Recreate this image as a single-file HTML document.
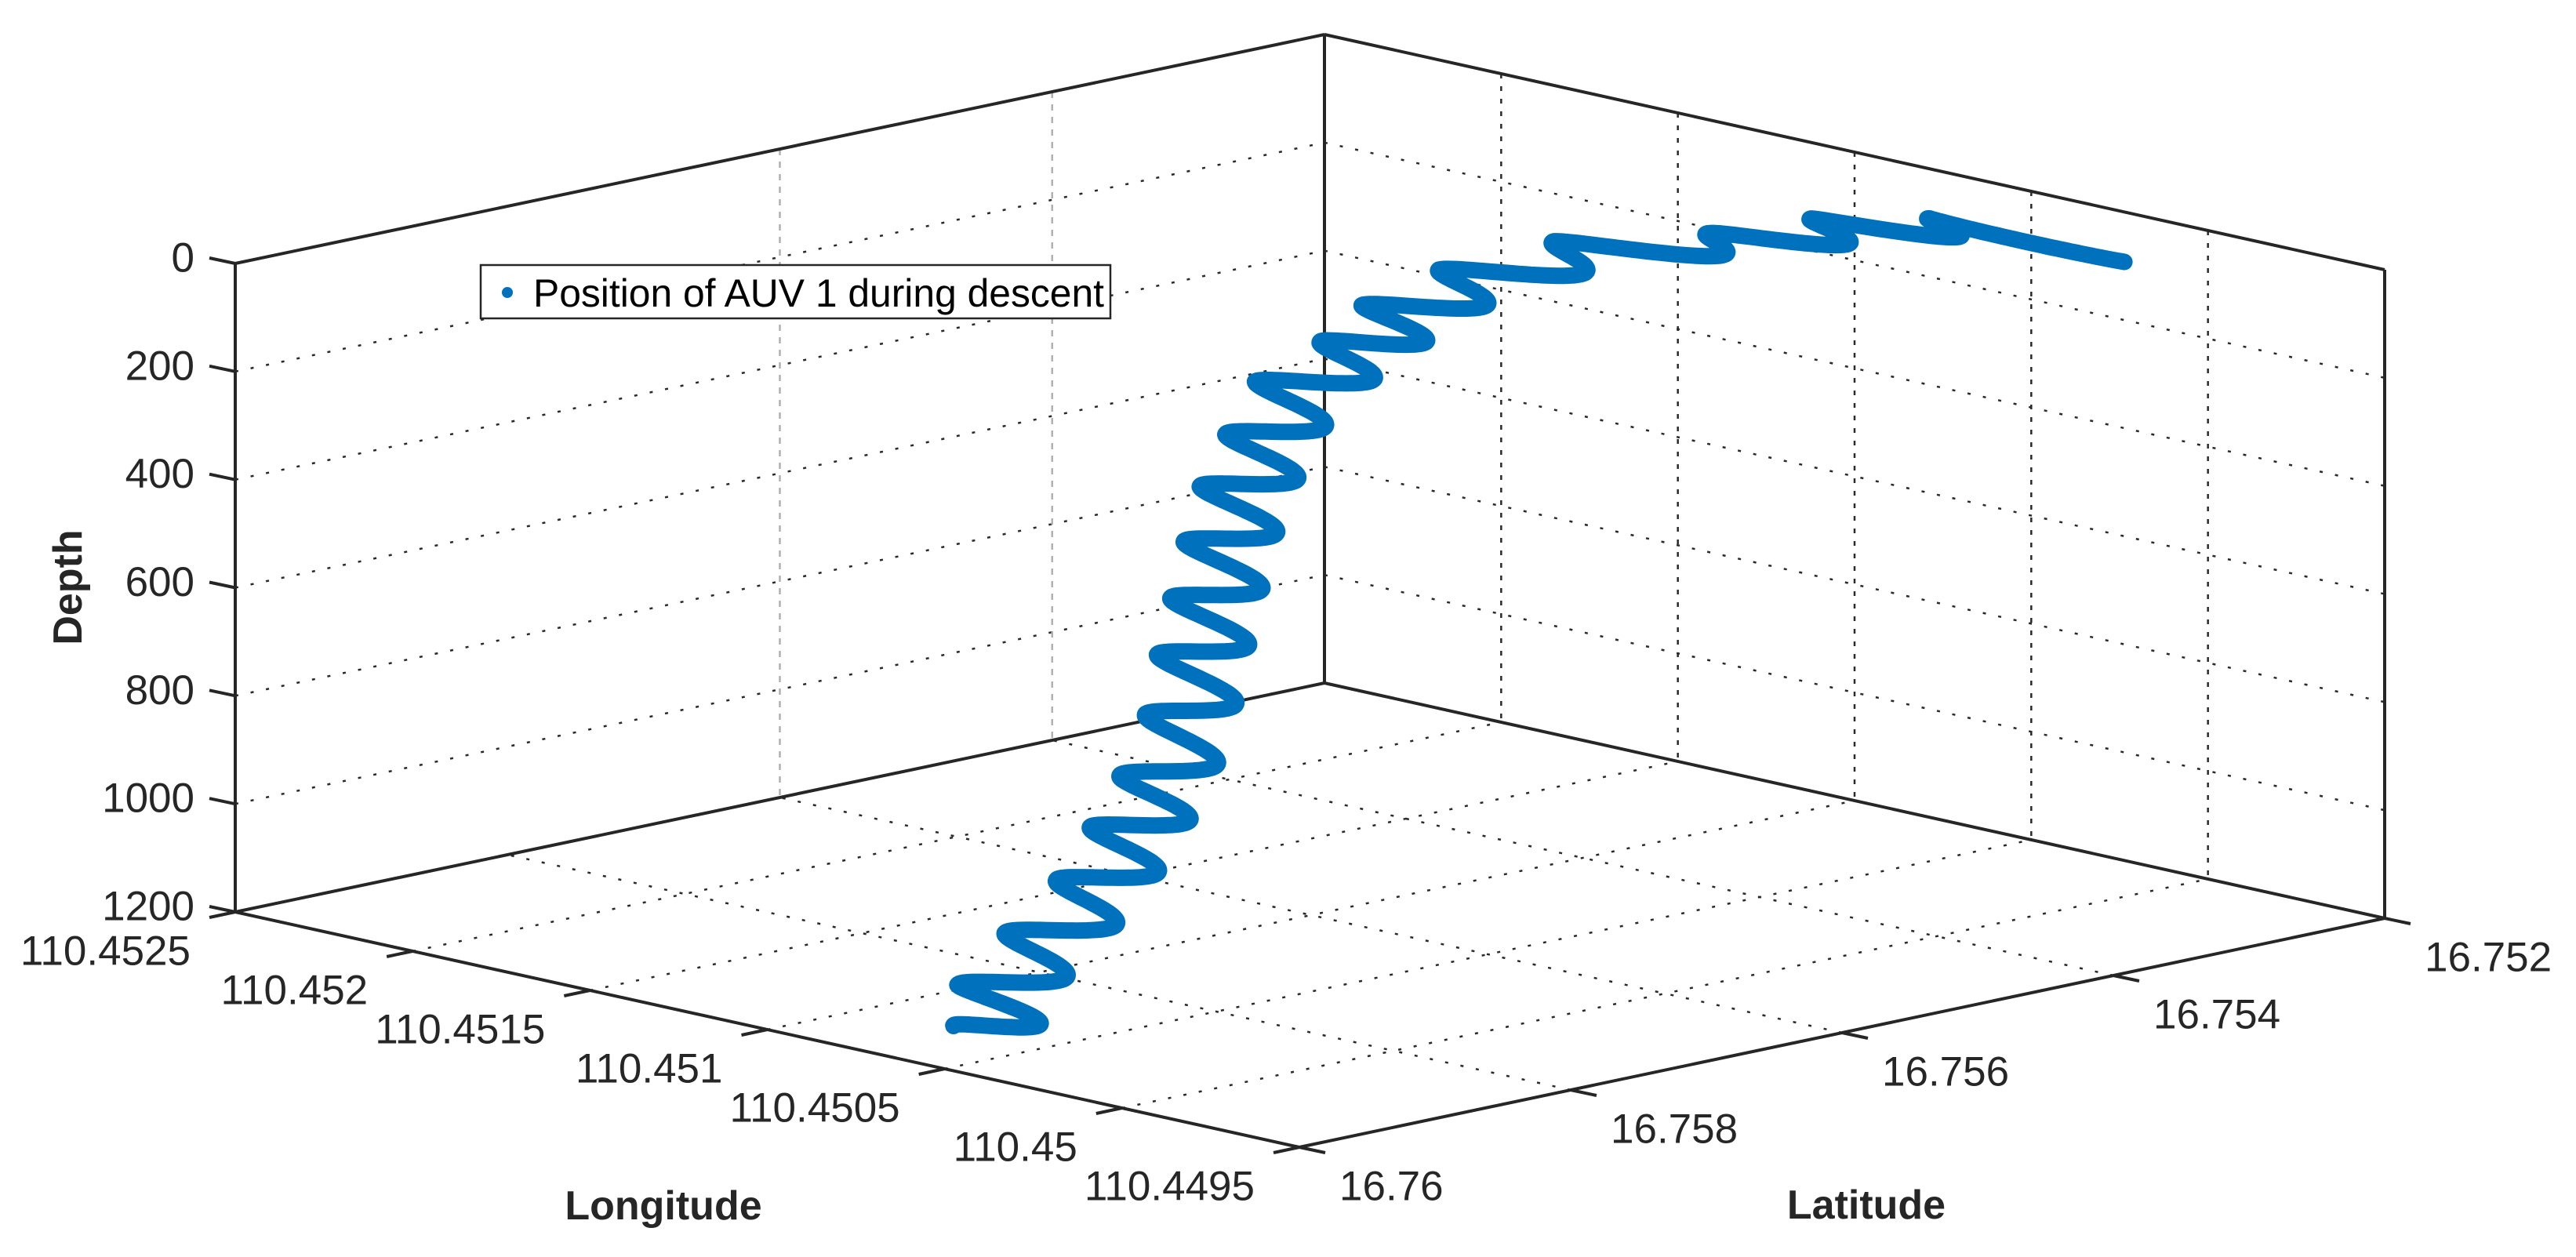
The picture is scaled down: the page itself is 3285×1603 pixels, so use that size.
<!DOCTYPE html>
<html><head><meta charset="utf-8"><style>
html,body{margin:0;padding:0;background:#fff;}
svg{display:block;font-family:"Liberation Sans",Arial,sans-serif;}
</style></head><body>
<svg id="chart" width="3285" height="1603" viewBox="0 0 3285 1603" xmlns="http://www.w3.org/2000/svg">
<rect x="0" y="0" width="3285" height="1603" fill="#ffffff"/>
<g id="grid"></g>
<g id="box"></g>
<g id="series"></g>
<g id="ticks"></g>
<text x="87" y="749" transform="rotate(-90 87 749)" text-anchor="middle" dominant-baseline="central" font-size="52" font-weight="bold" fill="#262626">Depth</text>
<text x="846" y="1538" text-anchor="middle" dominant-baseline="central" font-size="52" font-weight="bold" fill="#262626">Longitude</text>
<text x="2380" y="1537" text-anchor="middle" dominant-baseline="central" font-size="52" font-weight="bold" fill="#262626">Latitude</text>
<g>
<rect x="613" y="338" width="803" height="68" fill="#ffffff" stroke="#262626" stroke-width="2.5"/>
<circle cx="647" cy="373" r="7" fill="#0072BD"/>
<text x="680" y="374" dominant-baseline="central" font-size="50" fill="#000" textLength="728" lengthAdjust="spacingAndGlyphs">Position of AUV 1 during descent</text>
</g>
</svg>
<script>
// ---- data ----
const lonTicks = [110.4525, 110.452, 110.4515, 110.451, 110.4505, 110.45, 110.4495];
const lonTickLabels = ["110.4525","110.452","110.4515","110.451","110.4505","110.45","110.4495"];
const latTicks = [16.76, 16.758, 16.756, 16.754, 16.752];
const latTickLabels = ["16.76","16.758","16.756","16.754","16.752"];
const depthTicks = [0, 200, 400, 600, 800, 1000, 1200];
const depthTickLabels = ["0","200","400","600","800","1000","1200"];
// helix turn centres, ordered from start of descent (surface) to bottom
const trackLon = [110.45003,110.45041,110.45058,110.45063,110.45080,110.45078,110.45066,110.45049,110.45034,110.45037,110.45040,110.45043,110.45046,110.45049,110.45052,110.45055,110.45058,110.45061,110.45064,110.45067,110.45070];
const trackLat = [16.75285,16.75267,16.75310,16.75371,16.75442,16.75532,16.75620,16.75695,16.75782,16.75796,16.75807,16.75811,16.75813,16.75815,16.75816,16.75827,16.75841,16.75858,16.75888,16.75915,16.75910];
const trackDepth = [0,19,21,23,25,27,29,32,38,133,228,333,441,549,664,775,867,960,1046,1132,1215];
const helixRadiusLon = 0.00012;
const helixRadiusLat = 0.000032;

// ---- projection ----
const LON_MIN = 110.4495, LON_MAX = 110.4525, LAT_MIN = 16.752, LAT_MAX = 16.76, D_MAX = 1200;
const F = [1657,1463], Lv = [-1357,-300], Rv = [1384,-292], Dk = [5,0], H = 827;
function proj(lon, lat, depth){
  const a = (lon - LON_MIN)/(LON_MAX - LON_MIN);
  const b = (LAT_MAX - lat)/(LAT_MAX - LAT_MIN);
  const h = H*(1 - depth/D_MAX);
  return [F[0] + a*Lv[0] + b*Rv[0] + a*b*Dk[0], F[1] + a*Lv[1] + b*Rv[1] + a*b*Dk[1] - h];
}
const NS = "http://www.w3.org/2000/svg";
function line(g, p, q, stroke, w, dash){
  const l = document.createElementNS(NS,'line');
  l.setAttribute('x1',p[0]);l.setAttribute('y1',p[1]);l.setAttribute('x2',q[0]);l.setAttribute('y2',q[1]);
  l.setAttribute('stroke',stroke);l.setAttribute('stroke-width',w);
  if(dash) l.setAttribute('stroke-dasharray',dash);
  g.appendChild(l); return l;
}
const grid = document.getElementById('grid');
const GH = "#2a2a2a", GV = "#b0b0b0";
depthTicks.forEach(d => {
  let l = line(grid, proj(LON_MAX, LAT_MAX, d), proj(LON_MAX, LAT_MIN, d), GH, 2.5, "4 16");
  
  
  l = line(grid, proj(LON_MAX, LAT_MIN, d), proj(LON_MIN, LAT_MIN, d), GH, 2.5, "4 16");
  
  
});
latTicks.slice(2,4).forEach(t => {
  const l = line(grid, proj(LON_MAX, t, 0), proj(LON_MAX, t, D_MAX), GV, 2.5, "8 8");
  
  
});
lonTicks.slice(1,6).forEach(t => {
  const l = line(grid, proj(t, LAT_MIN, 0), proj(t, LAT_MIN, D_MAX), GH, 2.5, "6 10");
  
  
});
lonTicks.forEach(t => {
  const l = line(grid, proj(t, LAT_MAX, D_MAX), proj(t, LAT_MIN, D_MAX), GH, 2.5, "4 16");
  
  
});
latTicks.forEach(t => {
  const l = line(grid, proj(LON_MIN, t, D_MAX), proj(LON_MAX, t, D_MAX), GH, 2.5, "4 16");
  
  
});
const box = document.getElementById('box');
const BC = "#262626", BW = 4;
const edges = [
  [[LON_MAX,LAT_MAX,0],[LON_MAX,LAT_MAX,D_MAX]],
  [[LON_MAX,LAT_MIN,0],[LON_MAX,LAT_MIN,D_MAX]],
  [[LON_MIN,LAT_MIN,0],[LON_MIN,LAT_MIN,D_MAX]],
  [[LON_MAX,LAT_MAX,0],[LON_MAX,LAT_MIN,0]],
  [[LON_MAX,LAT_MIN,0],[LON_MIN,LAT_MIN,0]],
  [[LON_MAX,LAT_MAX,D_MAX],[LON_MAX,LAT_MIN,D_MAX]],
  [[LON_MAX,LAT_MIN,D_MAX],[LON_MIN,LAT_MIN,D_MAX]],
  [[LON_MAX,LAT_MAX,D_MAX],[LON_MIN,LAT_MAX,D_MAX]],
  [[LON_MIN,LAT_MAX,D_MAX],[LON_MIN,LAT_MIN,D_MAX]]
];
edges.forEach(e => {
  const l = line(box, proj(...e[0]), proj(...e[1]), BC, BW);
  
  
});
const tg = document.getElementById('ticks');
function label(x, y, txt, anchor, name){
  const t = document.createElementNS(NS,'text');
  t.setAttribute('x',x);t.setAttribute('y',y);t.setAttribute('text-anchor',anchor);
  t.setAttribute('dominant-baseline','central');t.setAttribute('font-size','53');t.setAttribute('fill','#262626');
  t.textContent = txt;
  
  
  tg.appendChild(t);
}
depthTicks.forEach((d,i) => {
  const p = proj(LON_MAX, LAT_MAX, d), q = [p[0]-33, p[1]-7];
  const l = line(tg, p, q, BC, BW);
  
  
  label(q[0]-19, q[1], depthTickLabels[i], 'end', 'depth-tick-label');
});
lonTicks.forEach((t,i) => {
  const p = proj(t, LAT_MAX, D_MAX), q = [p[0]-33, p[1]+7];
  const l = line(tg, p, q, BC, BW);
  
  
  label(q[0]-24, q[1]+43, lonTickLabels[i], 'end', 'lon-tick-label');
});
latTicks.forEach((t,i) => {
  const p = proj(LON_MIN, t, D_MAX), q = [p[0]+33, p[1]+7];
  const l = line(tg, p, q, BC, BW);
  
  
  label(q[0]+18, q[1]+43, latTickLabels[i], 'start', 'lat-tick-label');
});
const pts = [];
const STEPS = 60;
for (let j = 0; j < trackLon.length - 1; j++) {
  const th0 = (j === 0) ? Math.PI : 0;
  for (let s = 0; s <= STEPS; s++) {
    const f = s/STEPS;
    const th = th0 + (2*Math.PI - th0)*f;
    const lon = trackLon[j] + (trackLon[j+1]-trackLon[j])*f + helixRadiusLon*Math.cos(th);
    const lat = trackLat[j] + (trackLat[j+1]-trackLat[j])*f - helixRadiusLat*Math.sin(th);
    const dep = trackDepth[j] + (trackDepth[j+1]-trackDepth[j])*f;
    const p = proj(lon, lat, dep);
    pts.push(p[0].toFixed(1)+','+p[1].toFixed(1));
  }
}
const pl = document.createElementNS(NS,'polyline');
pl.setAttribute('points', pts.join(' '));
pl.setAttribute('fill','none');pl.setAttribute('stroke','#0072BD');pl.setAttribute('stroke-width','21');
pl.setAttribute('stroke-linecap','round');pl.setAttribute('stroke-linejoin','round');


document.getElementById('series').appendChild(pl);
</script>
</body></html>
